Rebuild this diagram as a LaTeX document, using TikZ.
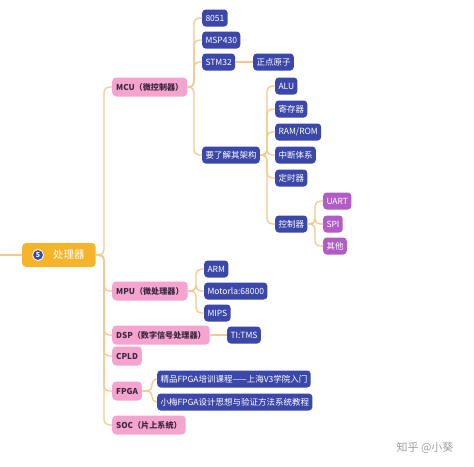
\documentclass[tikz,border=0pt]{standalone}
\usepackage{fontspec}
\setmainfont{Noto Sans CJK SC}
\definecolor{linec}{RGB}{243,201,143}
\definecolor{rootc}{RGB}{246,180,43}
\definecolor{pinkc}{RGB}{245,163,207}
\definecolor{bluec}{RGB}{59,72,170}
\definecolor{purplec}{RGB}{178,93,197}
\definecolor{inkc}{RGB}{58,40,64}

\begin{document}
\begin{tikzpicture}[
  x=1pt, y=-1pt,
  conn/.style={draw=linec, line width=1.3pt, rounded corners=5pt},
  rootbox/.style={
    anchor=west,
    fill=rootc,
    rounded corners=4pt,
    minimum height=24pt,
    inner xsep=11pt,
    text=white,
    font=\fontsize{10.5}{12}\selectfont
  },
  numdot/.style={
    circle,
    fill=bluec,
    draw=white,
    line width=0.8pt,
    inner sep=0pt,
    minimum size=11pt,
    text=white,
    font=\fontsize{7}{8}\selectfont\bfseries
  },
  pinkbox/.style={
    anchor=west,
    fill=pinkc,
    rounded corners=4pt,
    minimum height=19pt,
    inner xsep=4pt,
    text=inkc,
    font=\fontsize{8.1}{10}\selectfont\bfseries
  },
  bluebox/.style={
    anchor=west,
    fill=bluec,
    rounded corners=3.5pt,
    minimum height=17pt,
    inner xsep=3.3pt,
    text=white,
    font=\fontsize{8.5}{10}\selectfont
  },
  purplebox/.style={bluebox, fill=purplec},
  wmark/.style={text=black!38, font=\fontsize{11}{13}\selectfont}
]
  \useasboundingbox[fill=white] (0,0) rectangle (474,466);

  % root
  \coordinate (lft) at (0,255);
  \node[rootbox] (root) at (22,255) {\hspace*{20pt}处理器};
  \node[numdot] (num) at ([xshift=16]root.west) {5};
  \draw[conn] (lft) -- (root.west);

  % first level
  \node[pinkbox] (mcu) at (112,87) {MCU（微控制器）};
  \node[pinkbox] (mpu) at (112,291) {MPU（微处理器）};
  \node[pinkbox] (dsp) at (112,335) {DSP（数字信号处理器）};
  \node[pinkbox] (cpld) at (112,356) {CPLD};
  \node[pinkbox] (fpga) at (112,391) {FPGA};
  \node[pinkbox] (soc) at (112,425) {SOC（片上系统）};
  \foreach \c in {mcu,mpu,dsp,cpld,fpga,soc}
    \draw[conn] (root.east) -| ([xshift=-8]\c.west) -- (\c.west);

  % MCU
  \node[bluebox] (c8051) at (202,18) {8051};
  \node[bluebox] (msp) at (202,40) {MSP430};
  \node[bluebox] (stm) at (202,62) {STM32};
  \node[bluebox] (arch) at (202,155) {要了解其架构};
  \node[bluebox] (zdyz) at (253,62) {正点原子};
  \foreach \c in {c8051,msp,stm,arch}
    \draw[conn] (mcu.east) -| ([xshift=-8]\c.west) -- (\c.west);
  \draw[conn] (stm) -- (zdyz);

  % architecture
  \node[bluebox] (alu) at (275,86) {ALU};
  \node[bluebox] (reg) at (275,109) {寄存器};
  \node[bluebox] (ram) at (275,132) {RAM/ROM};
  \node[bluebox] (intr) at (275,155) {中断体系};
  \node[bluebox] (timer) at (275,178) {定时器};
  \node[bluebox] (ctrl) at (275,224) {控制器};
  \foreach \c in {alu,reg,ram,intr,timer,ctrl}
    \draw[conn] (arch.east) -| ([xshift=-8]\c.west) -- (\c.west);

  % controller
  \node[purplebox] (uart) at (323,201) {UART};
  \node[purplebox] (spi) at (323,224) {SPI};
  \node[purplebox] (other) at (323,246) {其他};
  \foreach \c in {uart,spi,other}
    \draw[conn] (ctrl.east) -| ([xshift=-8]\c.west) -- (\c.west);

  % MPU
  \node[bluebox] (arm) at (204,269) {ARM};
  \node[bluebox] (moto) at (204,291) {Motorla:68000};
  \node[bluebox] (mips) at (204,313) {MIPS};
  \foreach \c in {arm,moto,mips}
    \draw[conn] (mpu.east) -| ([xshift=-8]\c.west) -- (\c.west);

  % DSP
  \node[bluebox] (tms) at (227,335) {TI:TMS};
  \draw[conn] (dsp) -- (tms);

  % FPGA
  \node[bluebox] (v3) at (157,379) {精品FPGA培训课程——上海V3学院入门};
  \node[bluebox] (xm) at (157,402) {小梅FPGA设计思想与验证方法系统教程};
  \foreach \c in {v3,xm}
    \draw[conn] (fpga.east) -| ([xshift=-5]\c.west) -- (\c.west);

  \node[wmark] (wm) at (425,448) {知乎 @小葵};
\end{tikzpicture}
\end{document}
